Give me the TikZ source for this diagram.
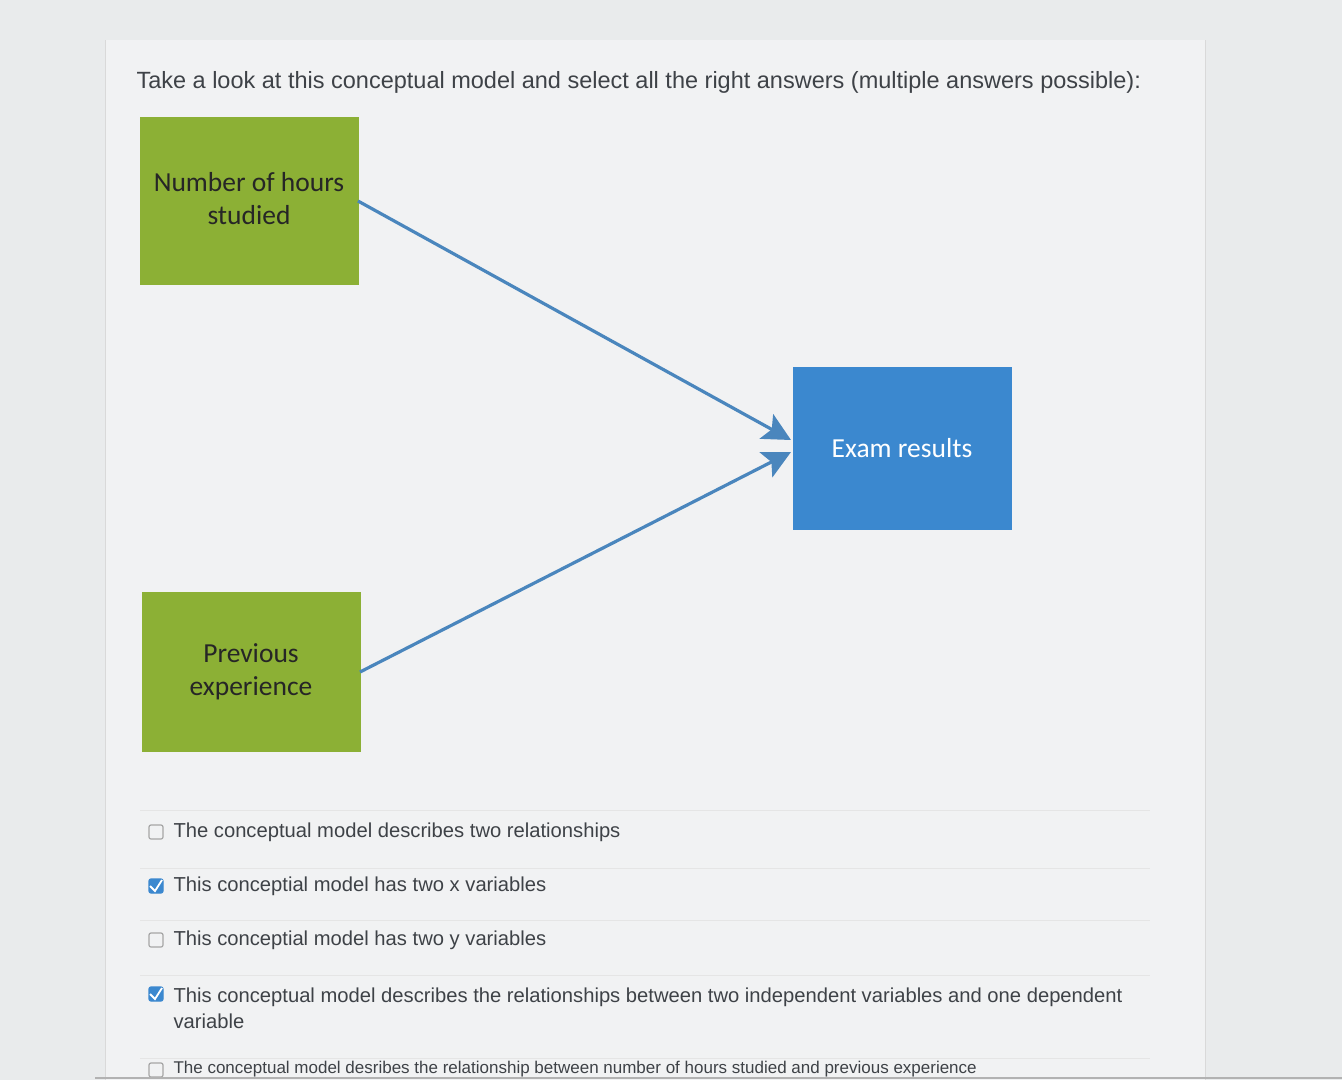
\documentclass[tikz,border=0pt]{standalone}
\usepackage{fontspec}
\setmainfont{Liberation Sans}
\newfontfamily\boxfont{Carlito}
\usetikzlibrary{arrows.meta}
\definecolor{bg}{HTML}{E9EBEC}
\definecolor{panel}{HTML}{F1F2F3}
\definecolor{grn}{HTML}{8CB035}
\definecolor{blu}{HTML}{3B88CF}
\definecolor{arr}{HTML}{4A86BD}
\definecolor{txt}{HTML}{3E4247}
\tikzset{
  varbox/.style={draw=none,minimum width=219pt,align=center,font=\boxfont\fontsize{27.5}{33}\selectfont},
  conn/.style={arr,line width=3.2pt,-{Stealth[length=28pt,width=28pt,inset=6pt]}},
  opt/.style={anchor=west,text=txt,font=\fontsize{20.2}{26}\selectfont,align=left},
  cb/.style={draw=gray!70,rounded corners=2pt,minimum size=14pt,inner sep=0pt,line width=1.2pt},
  cbon/.style={cb,fill=blu,draw=blu},
  sep/.style={gray!20,line width=1pt}
}
\begin{document}
\begin{tikzpicture}[x=1pt,y=-1pt]
\useasboundingbox (0,0) rectangle (1342,1080);
\fill[bg] (0,0) rectangle (1342,1080);
\fill[panel] (105,40) rectangle (1205,1080);
\draw[gray!30] (105,40) -- (105,1080) (1205,40) -- (1205,1080);
\node[anchor=west,text=txt,font=\fontsize{23.5}{28}\selectfont] (q) at (133,82) {Take a look at this conceptual model and select all the right answers (multiple answers possible):};
\node[varbox,fill=grn,minimum height=168pt,text=black!85] (h) at (249,201) {};
\node[varbox,text=black!85] (ht) at (249,199) {Number of hours\\studied};
\node[varbox,fill=grn,minimum height=160pt,text=black!85] (p) at (251,672) {Previous\\experience};
\node[varbox,fill=blu,minimum height=163pt,text=white] (e) at (902,448) {Exam results};
\coordinate (h1) at (358,201);
\coordinate (p1) at (360,672);
\coordinate (e1) at (791,440);
\coordinate (e2) at (791,452);
\draw[conn] (h1) -- (e1);
\draw[conn] (p1) -- (e2);
\draw[sep] (140,810) -- (1150,810);
\node[cb] (c1) at (156,832) {};
\node[opt] (o1) at (170,832) {The conceptual model describes two relationships};
\draw[sep] (140,868) -- (1150,868);
\node[cbon] (c2) at (156,886) {};
\node[opt] (o2) at (170,886) {This conceptial model has two x variables};
\draw[sep] (140,920) -- (1150,920);
\node[cb] (c3) at (156,940) {};
\node[opt] (o3) at (170,940) {This conceptial model has two y variables};
\draw[sep] (140,975) -- (1150,975);
\node[cbon] (c4) at (156,994) {};
\node[opt,anchor=north west] (o4) at (170,984) {This conceptual model describes the relationships between two independent variables and one dependent\\variable};
\draw[white,line width=1.8pt] (150,886) -- (155,891) -- (162,880);
\draw[white,line width=1.8pt] (150,994) -- (155,999) -- (162,988);
\draw[sep] (140,1058) -- (1150,1058);
\node[cb] (c5) at (156,1070) {};
\node[opt,font=\fontsize{17}{20}\selectfont] (o5) at (170,1069) {The conceptual model desribes the relationship between number of hours studied and previous experience};
\draw[gray!60,line width=2pt] (95,1078) -- (1342,1078);
\end{tikzpicture}
\end{document}
